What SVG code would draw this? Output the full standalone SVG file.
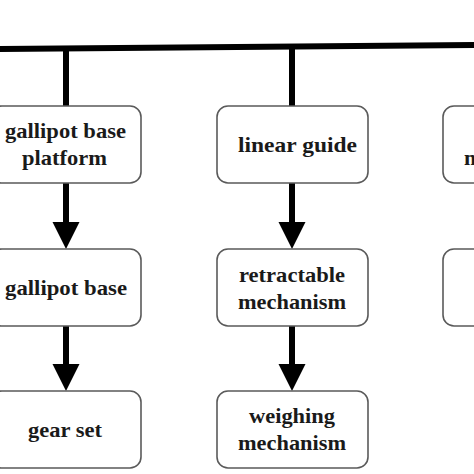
<svg xmlns="http://www.w3.org/2000/svg" width="474" height="474" viewBox="0 0 474 474">
<defs>
<style>
.box{fill:#fff;stroke:#5a5a5a;stroke-width:1.6}
.t{font-family:"Liberation Serif","DejaVu Serif",serif;font-weight:bold;font-size:22px;fill:#1a1a1a;text-anchor:middle}
.ln{stroke:#000;stroke-width:6;fill:none}
.hd{fill:#000}
</style>
</defs>
<rect width="474" height="474" fill="#fff"/>
<g id="connectors">
<line class="ln" x1="-2" y1="49" x2="476" y2="45"/>
<line class="ln" x1="66" y1="48" x2="66" y2="107"/>
<line class="ln" x1="292" y1="46" x2="292" y2="107"/>
<line class="ln" x1="66" y1="183" x2="66" y2="224"/>
<polygon class="hd" points="52.5,222 79.5,222 66,249"/>
<line class="ln" x1="66" y1="326" x2="66" y2="366"/>
<polygon class="hd" points="52.5,364 79.5,364 66,391"/>
<line class="ln" x1="292" y1="183" x2="292" y2="224"/>
<polygon class="hd" points="278.5,222 305.5,222 292,249"/>
<line class="ln" x1="292" y1="326" x2="292" y2="366"/>
<polygon class="hd" points="278.5,364 305.5,364 292,391"/>
</g>
<g id="n1">
<rect class="box" x="-9" y="106" width="150" height="77" rx="11"/>
<text class="t" x="65.5" y="138" textLength="121" lengthAdjust="spacingAndGlyphs">gallipot base</text>
<text class="t" x="64.5" y="165" textLength="85" lengthAdjust="spacingAndGlyphs">platform</text>
</g>
<g id="n2">
<rect class="box" x="217" y="106" width="151" height="77" rx="11"/>
<text class="t" x="297.5" y="151.5" textLength="119" lengthAdjust="spacingAndGlyphs">linear guide</text>
</g>
<g id="n3">
<rect class="box" x="443" y="106" width="150" height="77" rx="11"/>
<text class="t" x="518" y="165" textLength="108" lengthAdjust="spacingAndGlyphs">mechanism</text>
</g>
<g id="n4">
<rect class="box" x="-9" y="249" width="150" height="77" rx="11"/>
<text class="t" x="66" y="295" textLength="122" lengthAdjust="spacingAndGlyphs">gallipot base</text>
</g>
<g id="n5">
<rect class="box" x="217" y="249" width="151" height="77" rx="11"/>
<text class="t" x="292" y="282" textLength="106" lengthAdjust="spacingAndGlyphs">retractable</text>
<text class="t" x="292" y="309" textLength="108" lengthAdjust="spacingAndGlyphs">mechanism</text>
</g>
<g id="n6">
<rect class="box" x="443" y="249" width="150" height="77" rx="11"/>
</g>
<g id="n7">
<rect class="box" x="-9" y="391" width="150" height="77" rx="11"/>
<text class="t" x="65" y="437" textLength="74" lengthAdjust="spacingAndGlyphs">gear set</text>
</g>
<g id="n8">
<rect class="box" x="217" y="391" width="151" height="77" rx="11"/>
<text class="t" x="292" y="423" textLength="86" lengthAdjust="spacingAndGlyphs">weighing</text>
<text class="t" x="292" y="450" textLength="108" lengthAdjust="spacingAndGlyphs">mechanism</text>
</g>
</svg>
